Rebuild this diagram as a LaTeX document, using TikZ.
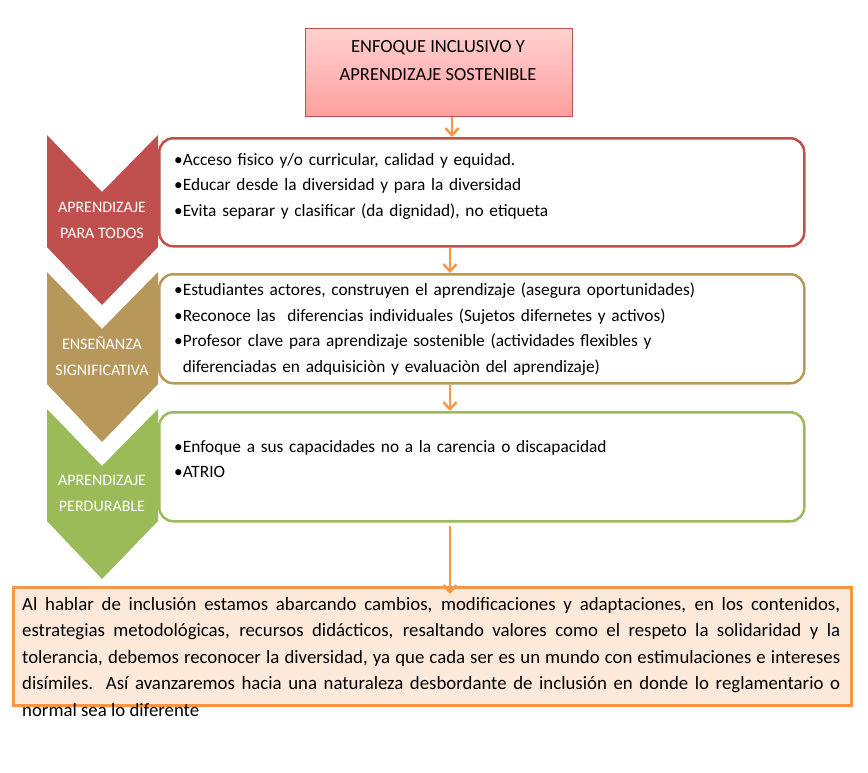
\documentclass[tikz,border=0pt]{standalone}
\usepackage{fontspec}
\setmainfont{Carlito}
\usetikzlibrary{arrows.meta}
\definecolor{cred}{HTML}{C0504D}
\definecolor{cgold}{HTML}{B8985A}
\definecolor{cgreen}{HTML}{9BBB59}
\definecolor{corange}{HTML}{F79646}
\definecolor{cpeach}{HTML}{FDE9D9}
\tikzset{
  chevtext/.style={text=white,font=\fontsize{16}{26}\selectfont,align=center},
  itembox/.style={draw=#1,line width=2.5pt,fill=white,rounded corners=14pt},
  itemtext/.style={anchor=north west,align=left,font=\fontsize{17.3}{25.5}\selectfont,text width=620pt,inner sep=0pt},
  flow/.style={draw=corange,line width=2.5pt,-{Straight Barb[length=7pt,width=13pt]}},
}
\begin{document}
\begin{tikzpicture}[x=1pt,y=-1pt]
\useasboundingbox (0,0) rectangle (868,772);
% top box
\node[draw=cred,line width=1pt,top color=red!18,bottom color=red!38,minimum width=267pt,minimum height=88pt,anchor=north west,inner sep=0pt] (top) at (305,28) {};
\node[font=\fontsize{18.5}{28}\selectfont,align=center] (toptxt) at (438,61) {ENFOQUE INCLUSIVO Y\\APRENDIZAJE SOSTENIBLE};
% chevrons
\fill[cred] (47,135) -- (102,192) -- (158,135) -- (158,247) -- (102,305) -- (47,247) -- cycle;
\fill[cgold] (47,272) -- (102,329) -- (158,272) -- (158,384) -- (102,442) -- (47,384) -- cycle;
\fill[cgreen] (47,409) -- (102,466) -- (158,409) -- (158,521) -- (102,579) -- (47,521) -- cycle;
% boxes
\node[itembox=cred,minimum width=645pt,minimum height=108pt,anchor=north west] (b1) at (158,137) {};
\node[itembox=cgold,minimum width=645pt,minimum height=109pt,anchor=north west] (b2) at (158,273) {};
\node[itembox=cgreen,minimum width=645pt,minimum height=109pt,anchor=north west] (b3) at (158,411) {};
\node[chevtext] (c1) at (102,220) {APRENDIZAJE\\PARA TODOS};
\node[chevtext] (c2) at (102,356) {ENSEÑANZA\\SIGNIFICATIVA};
\node[chevtext] (c3) at (102,493) {APRENDIZAJE\\PERDURABLE};
\node[itemtext] (t1) at (174,153) {•Acceso fisico y/o curricular, calidad y equidad.\\•Educar desde la diversidad y para la diversidad\\•Evita separar y clasificar (da dignidad), no etiqueta};
\node[itemtext] (t2) at (174,283) {•Estudiantes actores, construyen el aprendizaje (asegura oportunidades)\\•Reconoce las\ \ diferencias individuales (Sujetos difernetes y activos)\\•Profesor clave para aprendizaje sostenible (actividades flexibles y\\\hphantom{•}diferenciadas en adquisiciòn y evaluaciòn del aprendizaje)};
\node[itemtext] (t3) at (174,440) {•Enfoque a sus capacidades no a la carencia o discapacidad\\•ATRIO};
% bottom box
\node[draw=corange,line width=2.5pt,fill=cpeach,minimum width=838pt,minimum height=118pt,anchor=north west,inner sep=0pt] (bot) at (12,586) {};
\node[anchor=north west,text width=818pt,align=justify,inner sep=0pt,font=\fontsize{18.8}{26.5}\selectfont] (bottxt) at (22,597) {\hyphenpenalty=10000 \exhyphenpenalty=10000 Al hablar de inclusión estamos abarcando cambios, modificaciones y adaptaciones, en los contenidos, estrategias metodológicas, recursos didácticos, resaltando valores como el respeto la solidaridad y la tolerancia, debemos reconocer la diversidad, ya que cada ser es un mundo con estimulaciones e intereses disímiles. Así avanzaremos hacia una naturaleza desbordante de inclusión en donde lo reglamentario o normal sea lo diferente\par};
% arrows
\draw[flow] (top.south -| 452,0) -- (b1.north -| 452,0);
\draw[flow] (b1.south -| 450,0) -- (b2.north -| 450,0);
\draw[flow] (b2.south -| 450,0) -- (b3.north -| 450,0);
\draw[flow] (b3.south -| 450,0) ++(0,3) -- ([yshift=-8pt]bot.north -| 450,0);
\end{tikzpicture}
\end{document}
